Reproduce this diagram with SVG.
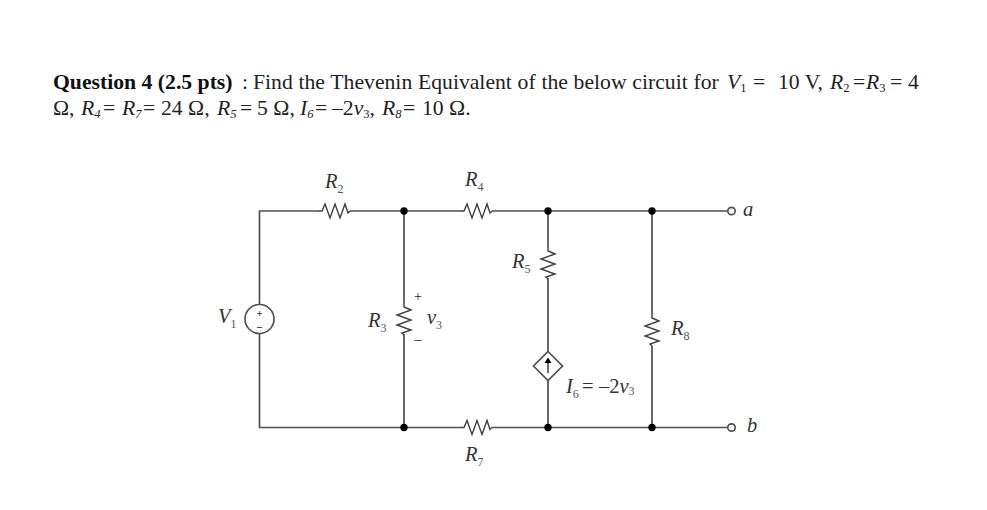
<svg xmlns="http://www.w3.org/2000/svg" width="987" height="510" viewBox="0 0 987 510">
<defs>
<path id="rh" d="M0 0 L4 0 L7 -7 L12 7 L17 -7 L22 7 L27 -7 L30 2 L32 0" fill="none" stroke="#404040" stroke-width="1.4"/>
<circle id="dot" r="3.7" fill="#000"/>
</defs>
<style>
text{font-family:"Liberation Serif",serif;fill:#222}
.q{font-size:21.7px}
.b{font-weight:bold;fill:#111}
.i{font-style:italic}
.s{font-size:12.500px}
.l{font-size:20.5px;font-style:italic;fill:#333}
.sub{font-size:12px;fill:#555;font-style:normal}
.w{fill:none;stroke:#505050;stroke-width:1.7}
</style>
<rect width="987" height="510" fill="#fff"/>
<g id="question">
<text class="q" y="88.500"><tspan class="b" x="53">Question 4 (2.5 pts)</tspan><tspan x="242">:</tspan><tspan x="253" word-spacing="0.300">Find the Thevenin Equivalent of the below circuit for</tspan><tspan class="i" x="727">V</tspan><tspan class="s" dy="3">1</tspan><tspan x="753" dy="-3">=</tspan><tspan x="778">10 V,</tspan><tspan class="i" x="830">R</tspan><tspan class="s" dy="3">2</tspan><tspan x="853" dy="-3">=</tspan><tspan class="i" x="866">R</tspan><tspan class="s" dy="3">3</tspan><tspan x="890" dy="-3">=</tspan><tspan x="908">4</tspan></text>
<text class="q" y="115"><tspan x="53">Ω,</tspan><tspan class="i" x="81">R</tspan><tspan class="s i" dy="3">4</tspan><tspan x="103" dy="-3">=</tspan><tspan class="i" x="122">R</tspan><tspan class="s i" dy="3">7</tspan><tspan x="143" dy="-3">=</tspan><tspan x="161">24 Ω,</tspan><tspan class="i" x="217">R</tspan><tspan class="s i" dy="3">5</tspan><tspan x="240" dy="-3">=</tspan><tspan x="257">5 Ω,</tspan><tspan class="i" x="300">I</tspan><tspan class="s i" dy="3">6</tspan><tspan x="315" dy="-3">=</tspan><tspan x="332">–2</tspan><tspan class="i">v</tspan><tspan class="s" dy="3">3</tspan><tspan dy="-3">,</tspan><tspan class="i" x="382">R</tspan><tspan class="s i" dy="3">8</tspan><tspan x="403" dy="-3">=</tspan><tspan x="422">10 Ω.</tspan></text>
</g>
<g id="connectors" class="w">
<path d="M259.500 304.500 V211 H318 M350 211 H460 M492 211 H727.500"/>
<path d="M259.500 333.500 V427.500 H460 M492 427.500 H727.500"/>
<path d="M404 211 V303 M404 334 V427.500"/>
<path d="M548 211 V247 M548 278 V351.500 M548 380.500 V427.500"/>
<path d="M652 211 V314 M652 346 V427.500"/>
</g>
<g id="R2"><use href="#rh" x="318" y="211"/><text class="l" x="325" y="188">R<tspan class="sub" dy="5">2</tspan></text></g>
<g id="R4"><use href="#rh" x="460" y="211"/><text class="l" x="465" y="186">R<tspan class="sub" dy="5">4</tspan></text></g>
<g id="R7"><use href="#rh" x="460" y="427.500"/><text class="l" x="465" y="461">R<tspan class="sub" dy="5">7</tspan></text></g>
<g id="R3"><use href="#rh" transform="translate(404 303) rotate(90)"/><text class="l" x="368" y="327">R<tspan class="sub" dy="5">3</tspan></text></g>
<g id="R5"><use href="#rh" transform="translate(548 247) rotate(90)"/><text class="l" x="512" y="268">R<tspan class="sub" dy="5">5</tspan></text></g>
<g id="R8"><use href="#rh" transform="translate(652 314) rotate(90)"/><text class="l" x="671" y="335">R<tspan class="sub" dy="5">8</tspan></text></g>
<g id="V1"><circle class="w" cx="259.500" cy="319" r="14.500"/>
<text x="259.500" y="317" font-size="10" text-anchor="middle" font-weight="bold">+</text><text x="259.500" y="329.500" font-size="10" text-anchor="middle" font-weight="bold">–</text>
<text class="l" x="218" y="323">V<tspan class="sub" dy="5">1</tspan></text></g>
<g id="v3"><text x="418" y="301" font-size="14" text-anchor="middle">+</text><text x="418" y="344" font-size="14" text-anchor="middle">–</text>
<text class="l" x="427" y="324">v<tspan class="sub" dy="5">3</tspan></text></g>
<g id="I6"><path class="w" d="M548 351.500 L562.500 366 L548 380.500 L533.500 366 Z"/>
<path class="w" d="M548 373 V360"/><path d="M548 357.500 L551.500 363 H544.500 Z" fill="#000"/>
<text class="l" x="566" y="393">I<tspan class="sub" dy="5">6</tspan><tspan x="582" dy="-5" font-style="normal">=</tspan><tspan x="599" font-style="normal">–2</tspan>v<tspan class="sub" dy="2">3</tspan></text></g>
<g id="junctions"><use href="#dot" x="404" y="211"/><use href="#dot" x="548" y="211"/><use href="#dot" x="652" y="211"/><use href="#dot" x="404" y="427.500"/><use href="#dot" x="548" y="427.500"/><use href="#dot" x="652" y="427.500"/></g>
<g id="a"><circle class="w" cx="731.500" cy="211" r="3.700"/><text class="l" x="743" y="216">a</text></g>
<g id="b"><circle class="w" cx="731.500" cy="427.500" r="3.700"/><text class="l" x="747" y="432">b</text></g>
</svg>
